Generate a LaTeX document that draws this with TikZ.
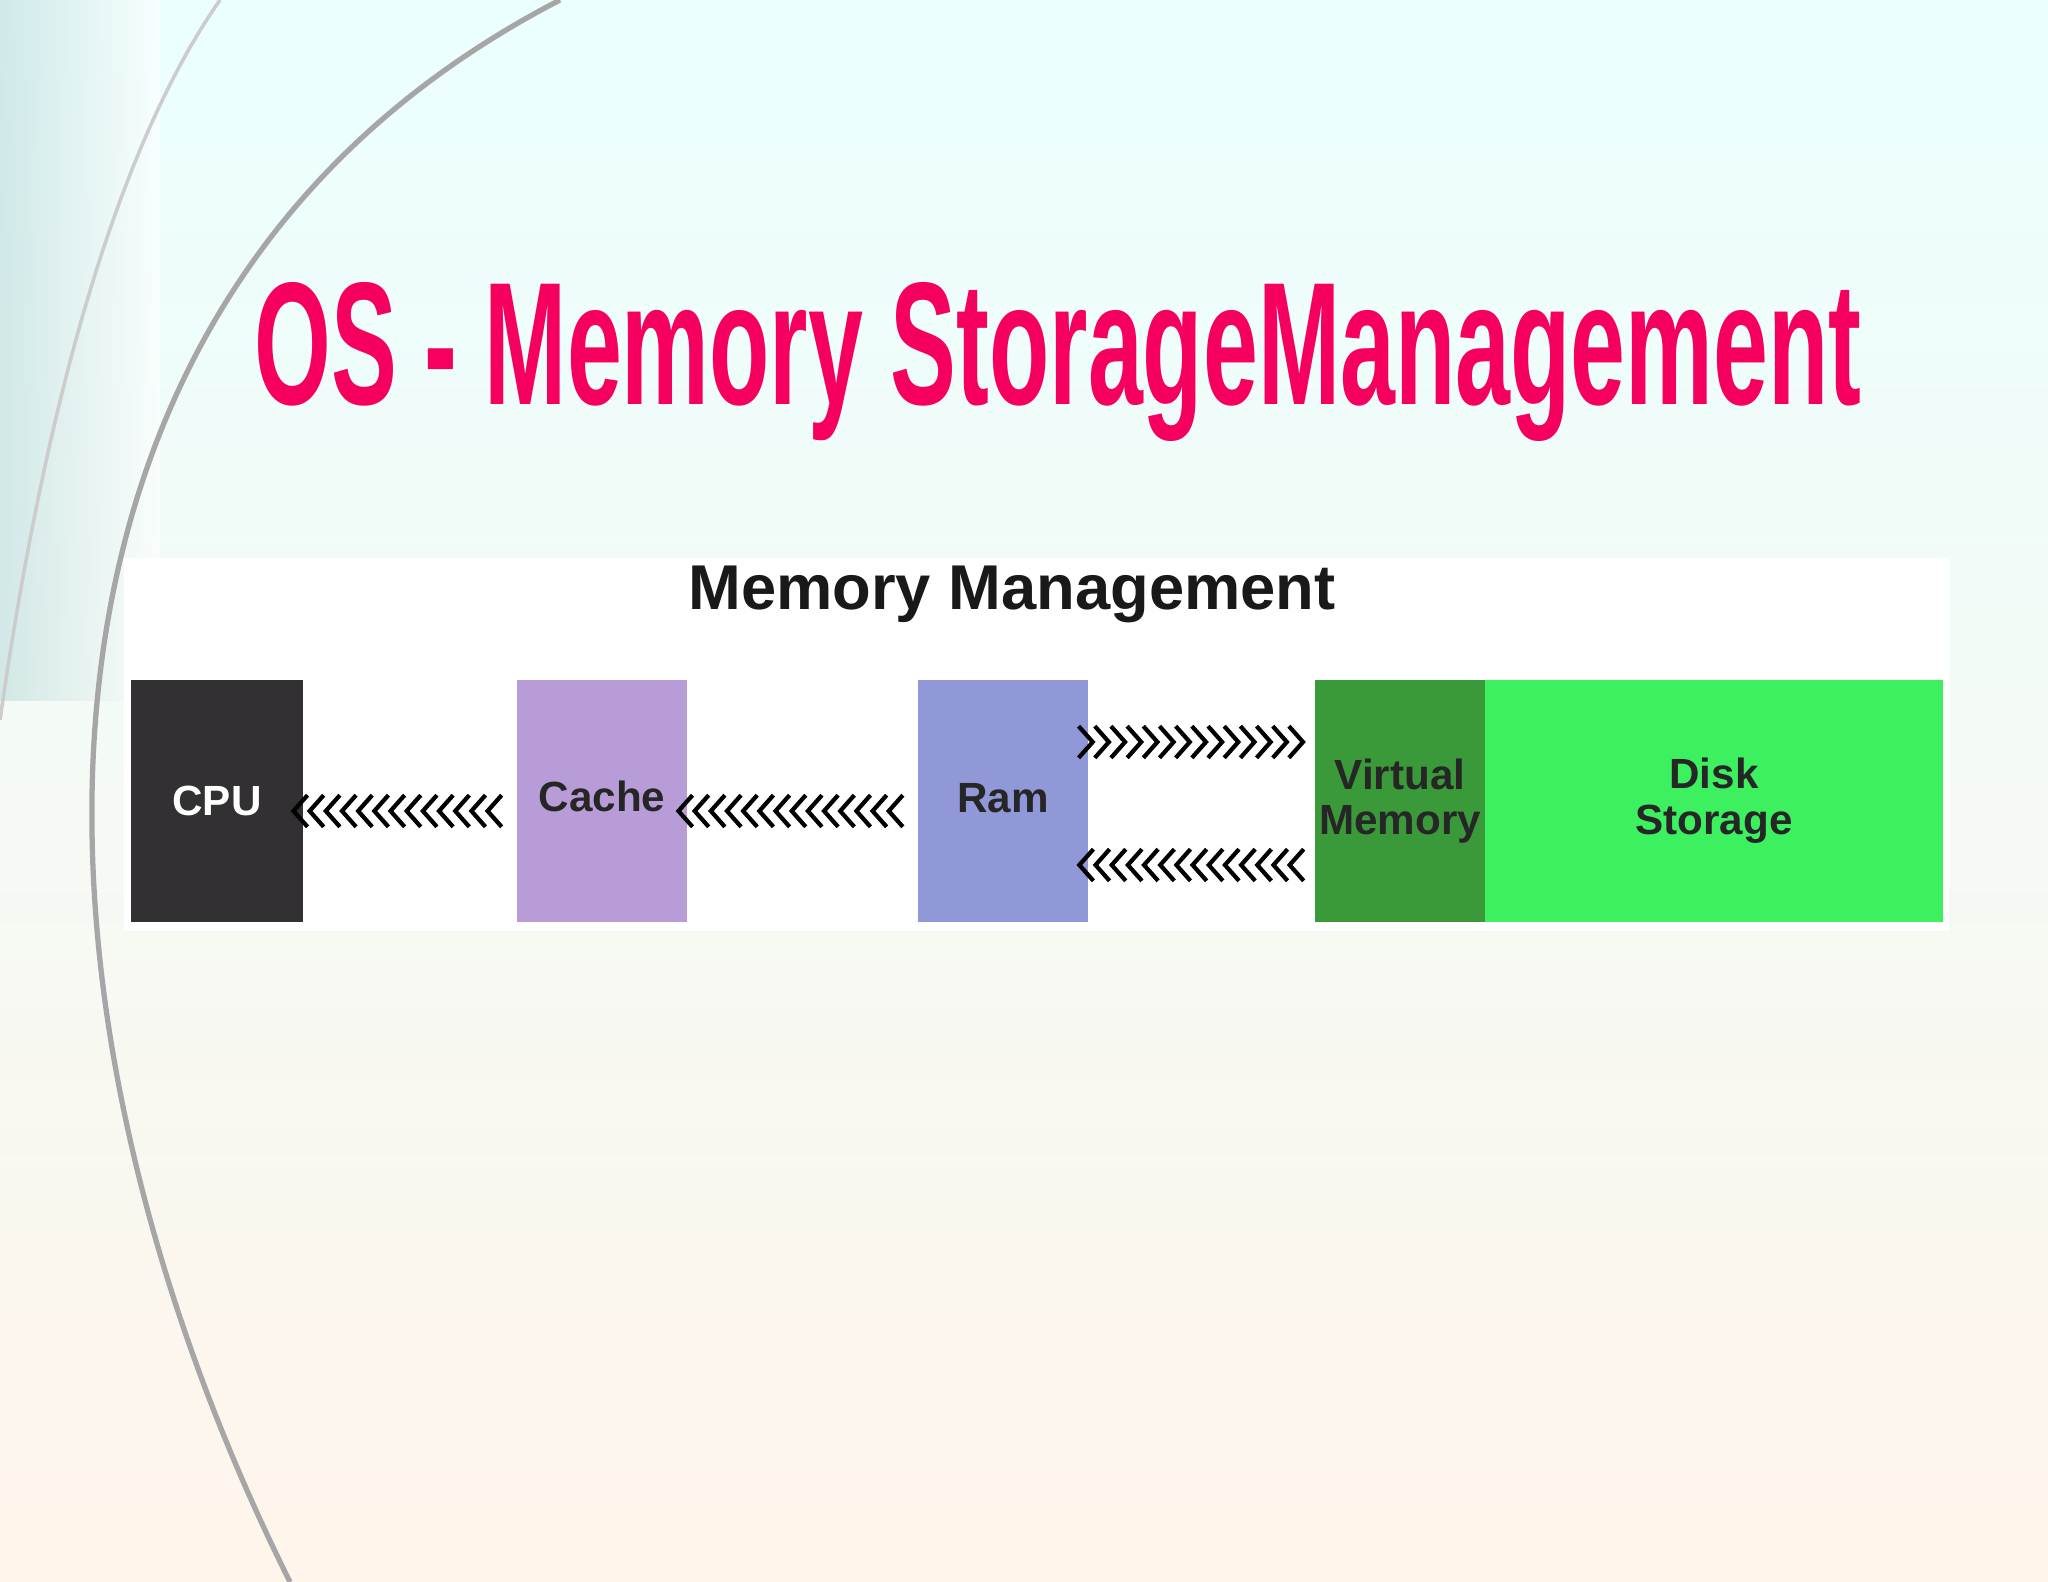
\documentclass[tikz,border=0pt]{standalone}
\usepackage{fontspec}
\setmainfont{Liberation Sans}
\usetikzlibrary{decorations.markings,arrows.meta}
\definecolor{titlec}{HTML}{F5005F}
\definecolor{cpuc}{HTML}{333033}
\definecolor{cachec}{HTML}{B89CD8}
\definecolor{ramc}{HTML}{9098D8}
\definecolor{vmc}{HTML}{3A9A3A}
\definecolor{diskc}{HTML}{3CF060}
\tikzset{
 box/.style={draw=none,minimum height=2.42cm,inner sep=0pt,font=\bfseries\fontsize{12}{13}\selectfont,align=center},
 chev/.style={decoration={markings,mark=between positions 0.03 and 0.99 step 4.6pt with {\arrow{#1}}},postaction=decorate},
}
\begin{document}
\begin{tikzpicture}[x=0.01cm,y=-0.01cm]
\useasboundingbox (0,0) rectangle (2048,1582);
\shade[top color=cyan!8!white,middle color=white,bottom color=orange!8!white] (0,0) rectangle (2048,1582);
\shade[left color=cyan!30!gray!40,right color=white,opacity=0.6] (0,0) rectangle (160,700);
\draw[gray!70,line width=1.5pt] (290,1582) .. controls (0,1000) and (-20,300) .. (560,0);
\draw[gray!40,line width=1pt] (0,720) .. controls (60,300) and (150,100) .. (220,0);
\node[text=titlec,inner sep=0pt] (title) at (1058,362) {\resizebox{16.06cm}{1.22cm}{\bfseries OS - Memory StorageManagement}};
\fill[white] (124,558) rectangle (1949,931);
\node[font=\bfseries\fontsize{18}{20}\selectfont,text=black!90] (mm) at (1012,594) {Memory Management};
\node[box,fill=cpuc,text=white,minimum width=1.71cm] (cpu) at (217,801) {CPU};
\node[box,fill=cachec,text=black!85,minimum width=1.70cm] (cache) at (602,801) {\raisebox{3pt}{Cache}};
\node[box,fill=ramc,text=black!85,minimum width=1.70cm] (ram) at (1003,801) {\raisebox{2pt}{Ram}};
\node[box,fill=vmc,text=black!85,minimum width=1.70cm] (vm) at (1400,801) {Virtual\\Memory};
\node[box,fill=diskc,text=black!85,minimum width=4.58cm] (disk) at (1714,801) {Disk\\Storage};
\path[chev={Straight Barb[reversed,length=4pt,width=9pt,line width=1.2pt]}] (cpu.east|-0,811) -- (cache.west|-0,811);
\path[chev={Straight Barb[reversed,length=4pt,width=9pt,line width=1.2pt]}] (cache.east|-0,811) -- (ram.west|-0,811);
\path[chev={Straight Barb[length=4pt,width=9pt,line width=1.2pt]}] (ram.east|-0,742) -- (vm.west|-0,742);
\path[chev={Straight Barb[reversed,length=4pt,width=9pt,line width=1.2pt]}] (ram.east|-0,865) -- (vm.west|-0,865);
\end{tikzpicture}
\end{document}
